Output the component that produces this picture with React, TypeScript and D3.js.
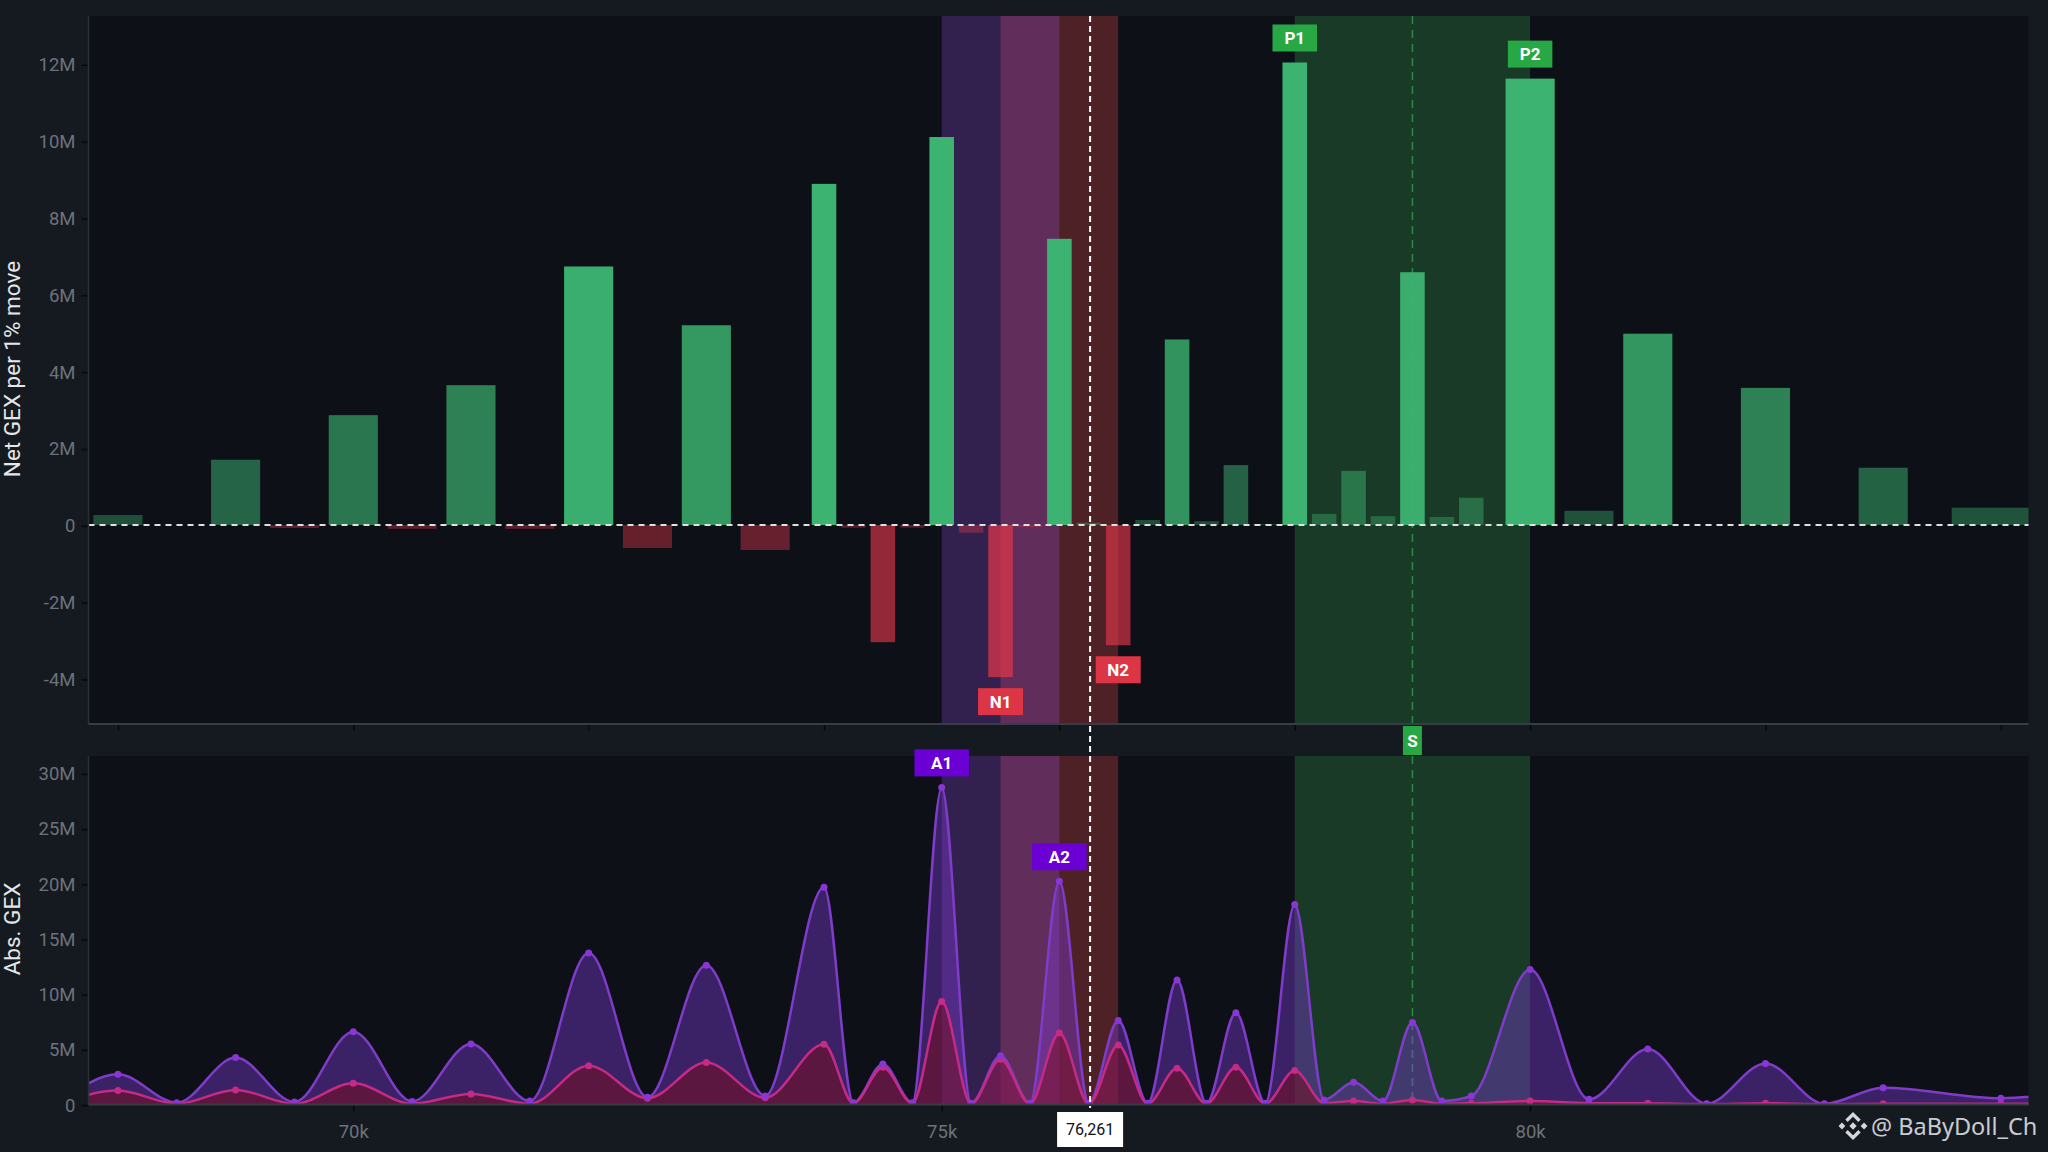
import React, { useEffect, useRef } from 'react';
import * as d3 from 'd3';

// strikes that carry a point on the lower chart (spacing is not even)
const strikes = [
  67500, 68000, 68500, 69000, 69500, 70000, 70500, 71000, 71500, 72000, 72500,
  73000, 73500, 74000, 74250, 74500, 74750, 75000, 75250, 75500, 75750, 76000,
  76250, 76500, 76750, 77000, 77250, 77500, 77750, 78000, 78250, 78500, 78750,
  79000, 79250, 79500, 80000, 80500, 81000, 81500, 82000, 82500, 83000, 84000,
  85000,
];
const netGex = [
  0, 0.26, 0, 1.7, -0.08, 2.86, -0.1, 3.64, -0.1, 6.73, -0.6,
  5.2, -0.65, 8.88, -0.07, -3.05, -0.07, 10.1, -0.2, -3.96, -0.05, 7.45,
  0.06, -3.13, 0.13, 4.83, 0.1, 1.56, 0.02, 12.04, 0.29, 1.41, 0.23,
  6.58, 0.21, 0.71, 11.62, 0.37, 4.98, 0, 3.57, 0, 1.49, 0.45,
  0,
];
const absGex = [
  0.1, 2.72, 0.15, 4.23, 0.2, 6.58, 0.25, 5.47, 0.3, 13.7, 0.63,
  12.6, 0.75, 19.66, 0.15, 3.65, 0.15, 28.7, 0.1, 4.4, 0.1, 20.2,
  0.1, 7.6, 0.1, 11.26, 0.1, 8.3, 0.1, 18.1, 0.4, 2.0, 0.3,
  7.4, 0.3, 0.75, 12.2, 0.45, 5.0, 0.05, 3.7, 0.05, 1.5, 0.55,
  2.2,
];
const absPut = [
  0.05, 1.24, 0.05, 1.3, 0.05, 1.9, 0.05, 0.94, 0.05, 3.5, 0.55,
  3.78, 0.6, 5.44, 0.1, 3.35, 0.1, 9.3, 0.05, 4.07, 0.05, 6.45,
  0.05, 5.37, 0.05, 3.26, 0.05, 3.35, 0.05, 3.05, 0.1, 0.3, 0.05,
  0.4, 0.05, 0.1, 0.3, 0.1, 0.1, 0.02, 0.1, 0.02, 0.05, 0.05,
  0.05,
];

const netTicks = [-4, -2, 0, 2, 4, 6, 8, 10, 12];
const absTicks = [0, 5, 10, 15, 20, 25, 30];
const topAxisTicks = [68000, 70000, 72000, 74000, 76000, 78000, 80000, 82000, 84000];
const bottomAxisTicks = [70000, 75000, 80000];

const spotPrice = 76261;
const supportStrike = 79000;
const purpleBand = [75000, 76000];
const redBand = [75500, 76500];
const greenBand = [78000, 80000];

const netMarkers = [
  { label: 'P1', strike: 78000 },
  { label: 'P2', strike: 80000 },
  { label: 'N1', strike: 75500 },
  { label: 'N2', strike: 76500 },
];
const absMarkers = [
  { label: 'A1', strike: 75000 },
  { label: 'A2', strike: 76000 },
];

const FONT = 'Roboto, sans-serif';
const W = 2048;
const H = 1152;
const LEFT = 88.5;
const RIGHT = 2028.5;

const App: React.FC = () => {
  const chartRef = useRef<SVGSVGElement>(null);

  useEffect(() => {
    const svg = d3.select(chartRef.current);
    svg.selectAll('*').remove();

    const x = d3.scaleLinear().domain([67750, 84235]).range([LEFT, RIGHT]);
    const yNet = d3.scaleLinear().domain([-5.18, 13.25]).range([724, 16]);
    const yAbs = d3.scaleLinear().domain([0, 31.5]).range([1104.3, 756.5]);

    svg.append('rect').attr('width', W).attr('height', H).attr('fill', '#151a21');

    const defs = svg.append('defs');
    defs.append('clipPath').attr('id', 'top-clip').append('rect')
      .attr('x', LEFT).attr('y', 16).attr('width', RIGHT - LEFT).attr('height', 708);
    defs.append('clipPath').attr('id', 'bottom-clip').append('rect')
      .attr('x', LEFT).attr('y', 756).attr('width', RIGHT - LEFT).attr('height', 349);

    const panels = [
      { y0: 16, y1: 724, clip: 'top-clip' },
      { y0: 756, y1: 1104.5, clip: 'bottom-clip' },
    ];

    panels.forEach((p) => {
      svg.append('rect')
        .attr('x', LEFT).attr('y', p.y0)
        .attr('width', RIGHT - LEFT).attr('height', p.y1 - p.y0)
        .attr('fill', '#0d1017');
      const bands = [
        { range: greenBand, color: 'rgba(64,184,84,0.25)' },
        { range: redBand, color: 'rgba(230,73,73,0.3)' },
        { range: purpleBand, color: 'rgba(147,80,227,0.28)' },
      ];
      bands.forEach((b) => {
        svg.append('rect')
          .attr('x', x(b.range[0])).attr('y', p.y0)
          .attr('width', x(b.range[1]) - x(b.range[0])).attr('height', p.y1 - p.y0)
          .attr('fill', b.color);
      });
      svg.append('line')
        .attr('x1', x(supportStrike)).attr('x2', x(supportStrike))
        .attr('y1', p.y0).attr('y2', p.y1)
        .attr('stroke', '#2f8a4a').attr('stroke-width', 1.5)
        .attr('stroke-dasharray', '8,6');
    });

    // bars, width follows the distance to the nearest neighbouring strike
    const barWidth = (i: number) => {
      const gaps: number[] = [];
      if (i > 0) gaps.push(x(strikes[i]) - x(strikes[i - 1]));
      if (i < strikes.length - 1) gaps.push(x(strikes[i + 1]) - x(strikes[i]));
      return d3.min(gaps) * 0.835;
    };
    const barOpacity = (v: number) => Math.min(1, 0.37 + (0.6 * Math.abs(v)) / 6.7);

    svg.append('g')
      .attr('clip-path', 'url(#top-clip)')
      .selectAll('rect')
      .data(netGex)
      .join('rect')
      .attr('x', (d, i) => x(strikes[i]) - barWidth(i) / 2)
      .attr('width', (d, i) => barWidth(i))
      .attr('y', (d) => Math.min(yNet(d), yNet(0)))
      .attr('height', (d) => Math.abs(yNet(d) - yNet(0)))
      .attr('fill', (d) => (d >= 0 ? '#3cb371' : '#e0364a'))
      .attr('fill-opacity', (d) => barOpacity(d));

    svg.append('line')
      .attr('x1', LEFT).attr('x2', RIGHT)
      .attr('y1', yNet(0)).attr('y2', yNet(0))
      .attr('stroke', '#e0e0e0').attr('stroke-width', 2)
      .attr('stroke-dasharray', '6,5');

    // lower chart
    const lower = svg.append('g').attr('clip-path', 'url(#bottom-clip)');
    const area = (values: number[]) =>
      d3.area<number>()
        .x((d) => x(d))
        .y0(yAbs(0))
        .y1((d, i) => yAbs(values[i]))
        .curve(d3.curveMonotoneX)(strikes);
    const line = (values: number[]) =>
      d3.line<number>()
        .x((d) => x(d))
        .y((d, i) => yAbs(values[i]))
        .curve(d3.curveMonotoneX)(strikes);

    lower.append('path').attr('d', area(absGex)).attr('fill', 'rgba(124,58,210,0.42)');
    lower.append('path').attr('d', area(absPut)).attr('fill', 'rgba(130,10,20,0.45)');
    lower.append('path').attr('d', line(absGex)).attr('fill', 'none')
      .attr('stroke', '#7f3cc9').attr('stroke-width', 2.5);
    lower.append('path').attr('d', line(absPut)).attr('fill', 'none')
      .attr('stroke', '#c42a86').attr('stroke-width', 2.5);
    lower.append('g').selectAll('circle').data(absPut).join('circle')
      .attr('cx', (d, i) => x(strikes[i])).attr('cy', (d) => yAbs(d))
      .attr('r', 3.5).attr('fill', '#c42a86');
    lower.append('g').selectAll('circle').data(absGex).join('circle')
      .attr('cx', (d, i) => x(strikes[i])).attr('cy', (d) => yAbs(d))
      .attr('r', 3.5).attr('fill', '#8a35d6');

    // axes
    const styleAxis = (g) => {
      g.select('.domain').remove();
      g.selectAll('.tick line').attr('stroke', '#07080b').attr('stroke-width', 1.5);
      g.selectAll('.tick text')
        .attr('fill', '#6d7279')
        .attr('font-family', FONT)
        .attr('font-size', 18.5);
    };
    svg.append('g').attr('transform', `translate(${LEFT},0.8)`)
      .call(d3.axisLeft(yNet).tickValues(netTicks).tickSize(7).tickPadding(6)
        .tickFormat((d) => (d === 0 ? '0' : `${d}M`)))
      .call(styleAxis);
    svg.append('g').attr('transform', `translate(${LEFT},0.8)`)
      .call(d3.axisLeft(yAbs).tickValues(absTicks).tickSize(7).tickPadding(6)
        .tickFormat((d) => (d === 0 ? '0' : `${d}M`)))
      .call(styleAxis);
    svg.append('g').attr('transform', 'translate(0,724)')
      .call(d3.axisBottom(x).tickValues(topAxisTicks).tickSize(7).tickFormat(() => ''))
      .call(styleAxis);
    svg.append('g').attr('transform', 'translate(0,1104.5)')
      .call(d3.axisBottom(x).tickValues(bottomAxisTicks).tickSize(7).tickPadding(13)
        .tickFormat((d) => `${+d / 1000}k`))
      .call(styleAxis);

    [16, 756].forEach((y0, i) => {
      svg.append('line')
        .attr('x1', LEFT).attr('x2', LEFT)
        .attr('y1', y0).attr('y2', i === 0 ? 724 : 1104.5)
        .attr('stroke', '#2b3038').attr('stroke-width', 1.5);
    });
    [724, 1104.5].forEach((y) => {
      svg.append('line')
        .attr('x1', LEFT).attr('x2', RIGHT)
        .attr('y1', y).attr('y2', y)
        .attr('stroke', '#383c45').attr('stroke-width', 2);
    });

    const yTitle = (label: string, cy: number) =>
      svg.append('text')
        .attr('transform', `translate(20,${cy}) rotate(-90)`)
        .attr('text-anchor', 'middle')
        .attr('font-family', FONT)
        .attr('font-size', 22.5)
        .attr('fill', '#e4e6e8')
        .text(label);
    yTitle('Net GEX per 1% move', 369);
    yTitle('Abs. GEX', 929);

    // marker tags
    const tag = (label: string, cx: number, top: number, w: number, h: number, fill: string) => {
      svg.append('rect')
        .attr('x', cx - w / 2).attr('y', top).attr('width', w).attr('height', h)
        .attr('fill', fill);
      svg.append('text')
        .attr('x', cx).attr('y', top + h / 2)
        .attr('dy', '0.36em')
        .attr('text-anchor', 'middle')
        .attr('font-family', FONT)
        .attr('font-weight', 700)
        .attr('font-size', 17)
        .attr('fill', '#ffffff')
        .text(label);
    };
    netMarkers.forEach((m) => {
      const v = netGex[strikes.indexOf(m.strike)];
      if (v > 0) tag(m.label, x(m.strike), yNet(v) - 38, 44.5, 27, '#28a745');
      else tag(m.label, x(m.strike), yNet(v) + 11, 45, 27, '#dc3545');
    });
    absMarkers.forEach((m) => {
      const v = absGex[strikes.indexOf(m.strike)];
      tag(m.label, x(m.strike), yAbs(v) - 38, 54.5, 27, '#6a00d4');
    });
    tag('S', x(supportStrike), 726, 19, 29, '#28a745');

    // spot price
    svg.append('line')
      .attr('x1', x(spotPrice)).attr('x2', x(spotPrice))
      .attr('y1', 16).attr('y2', 1108)
      .attr('stroke', '#ffffff').attr('stroke-width', 2)
      .attr('stroke-dasharray', '6,4');
    svg.append('rect')
      .attr('x', x(spotPrice) - 33).attr('y', 1112).attr('width', 66).attr('height', 35)
      .attr('fill', '#ffffff');
    svg.append('text')
      .attr('x', x(spotPrice)).attr('y', 1129.5)
      .attr('dy', '0.36em')
      .attr('text-anchor', 'middle')
      .attr('font-family', FONT)
      .attr('font-size', 16)
      .attr('fill', '#0d1017')
      .text(d3.format(',')(spotPrice));

    // watermark
    const logo = svg.append('g').attr('transform', 'translate(1853,1126) scale(1.3)').attr('fill', '#d5d7da');
    const diamond = (cx: number, cy: number, r: number) =>
      `M${cx},${cy - r}L${cx + r},${cy}L${cx},${cy + r}L${cx - r},${cy}Z`;
    logo.append('path').attr('d', diamond(0, 0, 2.8));
    logo.append('path').attr('d', diamond(-8.5, 0, 2.6));
    logo.append('path').attr('d', diamond(8.5, 0, 2.6));
    logo.append('path').attr('fill', 'none').attr('stroke', '#d5d7da').attr('stroke-width', 2.6)
      .attr('d', 'M-5,-4L0,-9L5,-4M-5,4L0,9L5,4');
    svg.append('text')
      .attr('x', 1871).attr('y', 1135)
      .attr('font-family', '"Noto Sans", sans-serif')
      .attr('font-size', 23.5)
      .attr('fill', '#c9ccd1')
      .text('@ BaByDoll_Ch');
  }, []);

  return (
    <svg
      ref={chartRef}
      width={W}
      height={H}
      style={{ position: 'absolute', left: 0, top: 0, display: 'block' }}
    />
  );
};

export default App;
